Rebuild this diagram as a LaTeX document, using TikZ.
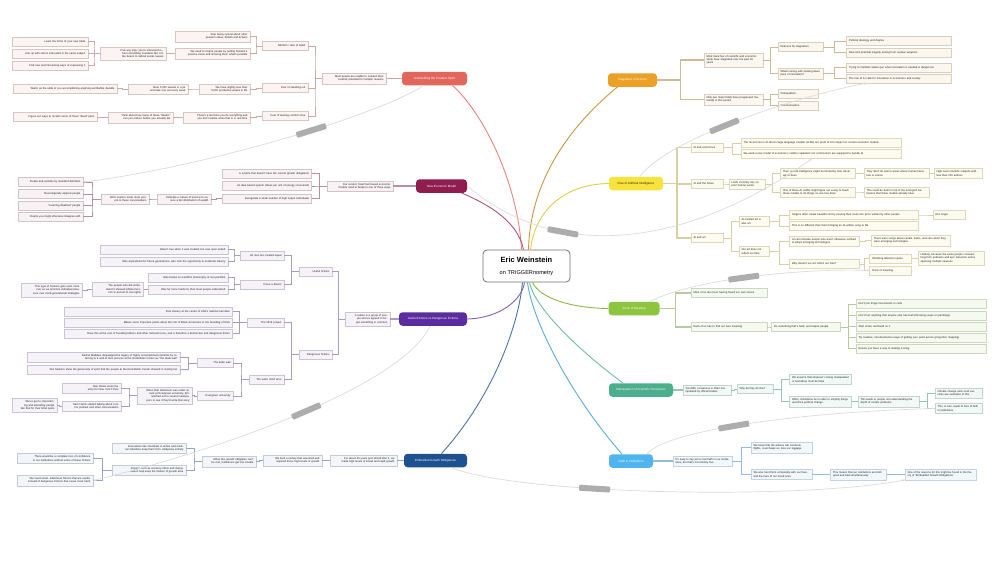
\documentclass[tikz,border=0pt]{standalone}
\usepackage{fontspec}
\setmainfont{Liberation Sans}
\usetikzlibrary{arrows.meta,positioning,calc}
\definecolor{ink}{HTML}{222222}
\definecolor{uT}{HTML}{E1675D}\definecolor{uF}{HTML}{FBF4F3}\definecolor{uB}{HTML}{D8C6C4}\definecolor{uL}{HTML}{CDA9A5}
\definecolor{nT}{HTML}{8F1D4F}\definecolor{nF}{HTML}{F8F2F4}\definecolor{nB}{HTML}{D3C2C9}\definecolor{nL}{HTML}{B88FA0}
\definecolor{fT}{HTML}{5B2C9D}\definecolor{fF}{HTML}{F5F3F8}\definecolor{fB}{HTML}{CAC4D6}\definecolor{fL}{HTML}{A59CBF}
\definecolor{eT}{HTML}{1E5190}\definecolor{eF}{HTML}{F3F5F9}\definecolor{eB}{HTML}{C4CBD8}\definecolor{eL}{HTML}{94A6C2}
\definecolor{sT}{HTML}{EAA126}\definecolor{sF}{HTML}{FBF7EE}\definecolor{sB}{HTML}{D9CFBC}\definecolor{sL}{HTML}{CDBB98}
\definecolor{aT}{HTML}{F8E33C}\definecolor{aF}{HTML}{FCFBEF}\definecolor{aB}{HTML}{DCD8B8}\definecolor{aL}{HTML}{D6D0A3}
\definecolor{mT}{HTML}{8DC540}\definecolor{mF}{HTML}{F5F9F0}\definecolor{mB}{HTML}{CCD8BD}\definecolor{mL}{HTML}{B7CB9E}
\definecolor{pT}{HTML}{4BAE8C}\definecolor{pF}{HTML}{F2F8F6}\definecolor{pB}{HTML}{C0D5CE}\definecolor{pL}{HTML}{99C3B4}
\definecolor{qT}{HTML}{4FB5EE}\definecolor{qF}{HTML}{F1F7FB}\definecolor{qB}{HTML}{C0D3DE}\definecolor{qL}{HTML}{92BDD6}
\newcommand\leaffont{\fontsize{2.7}{3.3}\selectfont}
\newcommand\topicfont{\fontsize{3}{3.6}\selectfont}
\newcommand\tagfont{\fontsize{2.4}{2.8}\selectfont}

\begin{document}
\begin{tikzpicture}[x=1pt,y=-1pt,
 leaf/.style={draw,line width=.4pt,inner xsep=2.4pt,inner ysep=2.3pt,minimum height=9pt,font=\leaffont,text=ink},
 lb/.style={leaf,align=right,text width=#1},
 rb/.style={leaf,align=left,text width=#1},
 topic/.style={rounded corners=3.5pt,text=white,font=\topicfont,minimum height=13.5pt,inner sep=1pt},
 hub/.style={draw=black!55,line width=.8pt,rounded corners=4pt,fill=white,minimum width=87pt,minimum height=32pt,align=center},
 lk/.style={line width=.7pt},
 stem/.style={line width=1.6pt},
 spoke/.style={line width=.9pt},
 rel/.style={draw=black!14,line width=.7pt,-{Stealth[length=3pt,width=2.4pt]}},
 tag/.style={fill=black!32,text=white,font=\tagfont,rounded corners=1pt,inner sep=1pt,minimum width=31pt,minimum height=6pt}]
\useasboundingbox[fill=white] (0,0) rectangle (1000,562);

\node[hub] (ctr) at (526.5,266) {{\fontsize{7.5}{8.5}\selectfont\bfseries Eric Weinstein}\\{\fontsize{5.6}{6.5}\selectfont on TRIGGERnometry}};

% Unshackling the Creative Spirit
\begin{scope}[leaf/.append style={draw=uB,fill=uF},lk/.append style={draw=uL}]
 \node[topic,fill=uT,minimum width=65pt] (uns) at (434.5,78.5) {Unshackling the Creative Spirit};
 \node[lb=59pt] (u1) at (354,78.5) {Most people are unable to unleash their creative potential for multiple reasons};
 \node[lb=41pt] (u2) at (285,46) {Nihilism / lack of belief};
 \node[lb=41pt] (u3) at (285,88) {Fear of standing out};
 \node[lb=41pt] (u4) at (285,116) {Fear of leaving comfort zone};
 \node[lb=70pt] (u5) at (212.5,36.5) {Stop being cynical about other people's ideas, beliefs and actions};
 \node[lb=70pt] (u6) at (212.5,53.5) {We need to inspire people by putting forward a positive vision and showing them what's possible};
 \node[lb=61pt] (u7) at (133,53.5) {Pick any topic you're interested in - from something mundane like coffee beans to radical social causes};
 \node[lb=71pt] (u8) at (50,41.5) {Learn the tricks of your new trade};
 \node[lb=71pt] (u9) at (50,53.5) {Join up with others interested in the same subject};
 \node[lb=71pt] (u10) at (50,65.5) {Find new and interesting ways of expressing it};
 \node[lb=46pt] (u11) at (224.5,89) {We have slightly less than 5,000 productive weeks in life};
 \node[lb=55pt] (u12) at (158,89) {Store 5,000 sweets in a jar and take one out every week};
 \node[lb=99pt] (u13) at (65,88.5) {Watch as the odds of you accomplishing anything worthwhile dwindle};
 \node[lb=62pt] (u14) at (216.5,117.5) {There's a last time you do everything and you don't realize when that is in real time};
 \node[lb=60pt] (u15) at (140.5,117.5) {Think about how many of these ``deaths'' can you endure before you actually die};
 \node[lb=79pt] (u16) at (55,117) {Figure out ways to reclaim some of those ``dead'' parts};
 \draw[lk,stem] (uns.west) -- (u1.east);
 \foreach \a/\b in {u1/u2,u1/u3,u1/u4,u2/u5,u2/u6,u6/u7,u7/u8,u7/u9,u7/u10,u3/u11,u11/u12,u12/u13,u4/u14,u14/u15,u15/u16}
  \draw[lk] (\a.west) -| ($(\a.west)!.5!(\b.east)$) |- (\b.east);
\end{scope}

% New Economic Model
\begin{scope}[leaf/.append style={draw=nB,fill=nF},lk/.append style={draw=nL}]
 \node[topic,fill=nT,minimum width=51pt] (neco) at (441.5,186) {New Economic Model};
 \node[lb=61pt] (n1) at (360,186) {Our current, fossil fuel based economic models need to break in one of three ways};
 \node[lb=84pt] (n2) at (267,173.5) {A system that doesn't have the current growth obligations};
 \node[lb=84pt] (n3) at (267,186) {An idea based system (ideas per unit of energy consumed)};
 \node[lb=84pt] (n4) at (267,198.5) {Deregulate a small number of high output individuals};
 \node[lb=49pt] (n5) at (184,199) {Cultivate a culture of service to ensure a fair distribution of wealth};
 \node[lb=43pt] (n6) at (125,199) {We'll need to invite more people to these conversations};
 \node[lb=60pt] (n7) at (50.5,182) {Freaks and weirdos by standard definition};
 \node[lb=60pt] (n8) at (50.5,194) {Neurologically atypical people};
 \node[lb=60pt] (n9) at (50.5,205.5) {``Learning disabled'' people};
 \node[lb=60pt] (n10) at (50.5,216.5) {People you might otherwise disagree with};
 \draw[lk,stem] (neco.west) -- (n1.east);
 \foreach \a/\b in {n1/n2,n1/n3,n1/n4,n4/n5,n5/n6,n6/n7,n6/n8,n6/n9,n6/n10}
  \draw[lk] (\a.west) -| ($(\a.west)!.5!(\b.east)$) |- (\b.east);
\end{scope}

% Useful Fictions vs Dangerous Fictions
\begin{scope}[leaf/.append style={draw=fB,fill=fF},lk/.append style={draw=fL}]
 \node[topic,fill=fT,minimum width=68pt] (fic) at (433,319) {Useful Fictions vs Dangerous Fictions};
 \node[lb=40pt] (f1) at (367.5,319) {A nation is a group of people who've agreed to forget something in common};
 \node[lb=28pt] (f2) at (315.5,271.5) {Useful fictions};
 \node[lb=28pt] (f3) at (315.5,354.5) {Dangerous fictions};
 \node[lb=39pt] (f4) at (262,255.5) {All men are created equal};
 \node[lb=39pt] (f5) at (262,284.5) {I have a dream};
 \node[lb=123pt] (f6) at (164,249.5) {Wasn't true when it was created, but was open ended};
 \node[lb=123pt] (f7) at (164,261.5) {Was aspirational for future generations, who took the opportunity to eradicate slavery};
 \node[lb=75pt] (f8) at (188,277.5) {Was based on Gandhi's philosophy of non-pacifism};
 \node[lb=75pt] (f9) at (188,289.5) {Was far more hardcore than most people understood};
 \node[lb=46pt] (f10) at (118,289.5) {The people who did understand it showed infinite heroism in pursuit of civil rights};
 \node[lb=56pt] (f11) at (51.5,290) {This type of heroism gets even more rare as we prioritize individual pleasure over multi-generational strategies};
 \node[lb=32pt] (f12) at (265.5,322.5) {The 1619 project};
 \node[lb=163pt] (f13) at (148.5,311.5) {Puts slavery at the center of USA's national narrative};
 \node[lb=163pt] (f14) at (148.5,322.5) {Makes some important points about the role of Black Americans in the founding of USA};
 \node[lb=163pt] (f15) at (148.5,333.5) {Does this at the cost of founding fathers and other national icons, and is therefore a destructive and dangerous fiction};
 \node[lb=30pt] (f16) at (266.5,379.5) {The woke mind virus};
 \node[lb=31pt] (f17) at (215,363) {The dude wall};
 \node[lb=31pt] (f18) at (215,396) {Evergreen university};
 \node[lb=148pt] (f19) at (103.5,357) {Rachel Maddow disparaged the legacy of highly accomplished scientists by referring to a wall of their pictures at the Rockefeller Center as ``the dude wall''};
 \node[lb=148pt] (f20) at (103.5,369.5) {She failed to show the generosity of spirit that the people at the Rockefeller Center showed in inviting her};
 \node[lb=50pt] (f21) at (164.5,395.5) {When Bret Weinstein was under attack at Evergreen university, Eric reached out to several newspapers to see if they'd write that story};
 \node[lb=54pt] (f22) at (91.5,388) {Bari Weiss wrote the story for New York Times};
 \node[lb=54pt] (f23) at (91.5,406) {Sam Harris started talking about it on his podcast and other conversations};
 \node[lb=40pt] (f24) at (34.5,405.5) {We've got to stop blaming and alienating people like that for their blind spots};
 \draw[lk,stem] (fic.west) -- (f1.east);
 \foreach \a/\b in {f1/f2,f1/f3,f2/f4,f2/f5,f4/f6,f4/f7,f5/f8,f5/f9,f9/f10,f10/f11,f3/f12,f3/f16,f12/f13,f12/f14,f12/f15,f16/f17,f16/f18,f17/f19,f17/f20,f18/f21,f21/f22,f21/f23,f23/f24}
  \draw[lk] (\a.west) -| ($(\a.west)!.5!(\b.east)$) |- (\b.east);
\end{scope}

% Embedded Growth Obligations
\begin{scope}[leaf/.append style={draw=eB,fill=eF},lk/.append style={draw=eL}]
 \node[topic,fill=eT,minimum width=63pt] (ego) at (435.5,460.5) {Embedded Growth Obligations};
 \node[lb=62pt] (e1) at (363.5,460.5) {For about 25 years post World War II, we made high levels of broad and rapid growth};
 \node[lb=54pt] (e2) at (292.5,460.5) {We built a society that assumed and required these high levels of growth};
 \node[lb=49pt] (e3) at (229,461.5) {When this growth obligation can't be met, institutions get into trouble};
 \node[lb=69pt] (e4) at (149,448) {Innovations like checklists in airline and medical industries keep them from collapsing entirely};
 \node[lb=69pt] (e5) at (149,470) {Fictions such as currency influx and manipulation help keep the illusion of growth alive};
 \node[lb=71pt] (e6) at (55,458.5) {There would be a complete loss of confidence in our institutions without some of these fictions};
 \node[lb=71pt] (e7) at (55,480.5) {We need smart, adult-level fictions that are useful, instead of dangerous fictions that cause more harm};
 \draw[lk,stem] (ego.west) -- (e1.east);
 \foreach \a/\b in {e1/e2,e2/e3,e3/e4,e3/e5,e5/e6,e5/e7}
  \draw[lk] (\a.west) -| ($(\a.west)!.5!(\b.east)$) |- (\b.east);
\end{scope}

% Stagnation of Science
\begin{scope}[leaf/.append style={draw=sB,fill=sF},lk/.append style={draw=sL}]
 \node[topic,fill=sT,minimum width=49pt] (stag) at (632.5,80) {Stagnation of Science};
 \node[rb=54pt] (s1) at (733.5,60) {Most branches of scientific and economic study have stagnated over the past 20 years};
 \node[rb=54pt] (s2) at (733.5,99.5) {Only two major fields have progressed materially in this period};
 \node[rb=40pt] (s3) at (800.5,47) {Reasons for stagnation};
 \node[rb=40pt] (s4) at (800.5,73.5) {What's wrong with slowing down pace of innovation?};
 \node[rb=100pt] (s5) at (899,41) {Political ideology and dogma};
 \node[rb=100pt] (s6) at (899,52.5) {Real and potential tragedy arising from nuclear weapons};
 \node[rb=100pt] (s7) at (899,67.5) {Trying to maintain status quo when innovation is needed is dangerous};
 \node[rb=100pt] (s8) at (899,78.5) {The rise of AI calls for innovation in economics and society};
 \node[rb=35pt] (s9) at (798,94) {Computation};
 \node[rb=35pt] (s10) at (798,105.5) {Communication};
 \foreach \b in {s1,s2}
  \draw[lk,stem] (stag.east) -| ($(stag.east)!.5!(\b.west)$) |- (\b.west);
 \foreach \a/\b in {s1/s3,s1/s4,s3/s5,s3/s6,s4/s7,s4/s8,s2/s9,s2/s10}
  \draw[lk] (\a.east) -| ($(\a.east)!.5!(\b.west)$) |- (\b.west);
\end{scope}

% Rise of Artificial Intelligence
\begin{scope}[leaf/.append style={draw=aB,fill=aF},lk/.append style={draw=aL}]
 \node[topic,fill=aT,text=ink,minimum width=54pt] (ai) at (636,183.5) {Rise of Artificial Intelligence};
 \node[rb=27pt] (a1) at (707,147.5) {AI and economics};
 \node[rb=27pt] (a2) at (707,184) {AI and the future};
 \node[rb=27pt] (a3) at (707,238) {AI and art};
 \node[rb=155pt] (a4) at (821,143) {The recent rise in AI-driven large language models (LLMs) are proof of AI's impact on current economic models};
 \node[rb=155pt] (a5) at (821,154) {We need a new model of economics; neither capitalism nor communism are equipped to handle AI};
 \node[rb=31pt] (a6) at (747,184) {LLMs currently rely on prior human works};
 \node[rb=70pt] (a7) at (818,173.5) {Their overall intelligence might be limited by how clever we've been};
 \node[rb=70pt] (a8) at (818,192) {One of these AI outfits might figure out a way to teach these models to do things no one has done};
 \node[rb=60pt] (a9) at (896.5,173.5) {They don't do well in areas where human literature is scarce};
 \node[rb=43pt] (a10) at (958,173.5) {High level scientific subjects with less than 200 authors};
 \node[rb=60pt] (a11) at (896.5,192) {This could be built on top of the emergent behaviors that these models already have};
 \node[rb=25pt] (a12) at (754,221.5) {AI-created art is also art};
 \node[rb=25pt] (a13) at (754,251.5) {Our art does not reflect our time};
 \node[rb=124pt] (a14) at (854,215) {Singers often create beautiful art by pouring their souls into lyrics written by other people};
 \node[rb=124pt] (a15) at (854,226) {This is no different than them bringing an AI-written song to life};
 \node[rb=27pt] (a16) at (949,215) {Eric sings!};
 \node[rb=65pt] (a17) at (824.5,241) {AI can motivate people who aren't otherwise inclined to adopt emerging technologies};
 \node[rb=65pt] (a18) at (824.5,264) {Why doesn't our art reflect our time?};
 \node[rb=74pt] (a19) at (911,240.5) {There were songs about canals, trains, and cars when they were emerging technologies};
 \node[rb=37pt] (a20) at (890.5,258.5) {Shrinking attention spans};
 \node[rb=37pt] (a21) at (890.5,270.5) {Crisis of meaning};
 \node[rb=61pt] (a22) at (951,258) {Unlikely, because the same people consume long-form podcasts and epic television series spanning multiple seasons};
 \foreach \b in {a1,a2,a3}
  \draw[lk,stem] (ai.east) -| ($(ai.east)!.5!(\b.west)$) |- (\b.west);
 \foreach \a/\b in {a1/a4,a1/a5,a2/a6,a6/a7,a6/a8,a7/a9,a9/a10,a8/a11,a3/a12,a3/a13,a12/a14,a12/a15,a14/a16,a13/a17,a13/a18,a17/a19,a18/a20,a18/a21,a20/a22}
  \draw[lk] (\a.east) -| ($(\a.east)!.5!(\b.west)$) |- (\b.west);
\end{scope}

% Crisis of Meaning
\begin{scope}[leaf/.append style={draw=mB,fill=mF},lk/.append style={draw=mL}]
 \node[topic,fill=mT,minimum width=51pt] (mean) at (634,308.5) {Crisis of Meaning};
 \node[rb=71pt] (m1) at (729,293) {Most of us die never having heard our own voices};
 \node[rb=71pt] (m2) at (729,327) {Each of us has to find our own meaning};
 \node[rb=64pt] (m3) at (806,327) {Do something that's hard, and inspire people};
 \node[rb=125pt] (m4) at (921,304) {Don't join fringe movements or cults};
 \node[rb=125pt] (m5) at (921,315.5) {Don't hurt anything that anyone else has built (throwing soups on paintings)};
 \node[rb=125pt] (m6) at (921,326.5) {Start small, and build on it};
 \node[rb=125pt] (m7) at (921,337.5) {Try creative, non-destructive ways of getting your point across (projection mapping)};
 \node[rb=125pt] (m8) at (921,348.5) {Ensure you have a way to making a living};
 \foreach \b in {m1,m2}
  \draw[lk,stem] (mean.east) -| ($(mean.east)!.5!(\b.west)$) |- (\b.west);
 \foreach \a/\b in {m2/m3,m3/m4,m3/m5,m3/m6,m3/m7,m3/m8}
  \draw[lk] (\a.east) -| ($(\a.east)!.5!(\b.west)$) |- (\b.west);
\end{scope}

% Manipulation of Scientific Consensus
\begin{scope}[leaf/.append style={draw=pB,fill=pF},lk/.append style={draw=pL}]
 \node[topic,fill=pT,minimum width=64pt] (man) at (641,390) {Manipulation of Scientific Consensus};
 \node[rb=43pt] (p1) at (707,390) {Scientific consensus is often manipulated by official bodies};
 \node[rb=31pt] (p2) at (755,389) {Why do they do this?};
 \node[rb=57pt] (p3) at (820.5,379.5) {We assume that whatever's being manipulated or lied about must be false};
 \node[rb=57pt] (p4) at (820.5,401.5) {Often, institutions lie in order to simplify things and drive political change};
 \node[rb=56pt] (p5) at (888.5,401.5) {This leads to people not understanding the depth of certain problems};
 \node[rb=42pt] (p6) at (958.5,393) {Climate change and covid vaccines are examples of this};
 \node[rb=42pt] (p7) at (958.5,408.5) {This, in turn, leads to loss of faith in institutions};
 \draw[lk,stem] (man.east) -- (p1.west);
 \foreach \a/\b in {p1/p2,p2/p3,p2/p4,p4/p5,p5/p6,p5/p7}
  \draw[lk] (\a.east) -| ($(\a.east)!.5!(\b.west)$) |- (\b.west);
\end{scope}

% Faith in Institutions
\begin{scope}[leaf/.append style={draw=qB,fill=qF},lk/.append style={draw=qL}]
 \node[topic,fill=qT,minimum width=44pt] (fai) at (631,461) {Faith in Institutions};
 \node[rb=54pt] (q1) at (702.5,461) {It's easy to say we've lost faith in our institutions, but that's not entirely true};
 \node[rb=56pt] (q2) at (781.5,447.5) {We know that the airlines will overbook flights, overcharge us, lose our luggage};
 \node[rb=56pt] (q3) at (781.5,474.5) {We also trust them completely with our lives, and the lives of our loved ones};
 \node[rb=51pt] (q4) at (858.5,474.5) {This means that our institutions are both good and bad simultaneously};
 \node[rb=66pt] (q5) at (940.5,474.5) {One of the reasons for this might be found in the theory of `Embedded Growth Obligations'};
 \draw[lk,stem] (fai.east) -- (q1.west);
 \foreach \a/\b in {q1/q2,q1/q3,q3/q4,q4/q5}
  \draw[lk] (\a.east) -| ($(\a.east)!.5!(\b.west)$) |- (\b.west);
\end{scope}

% spokes from the hub
\draw[spoke,draw=uT!80] ([xshift=18pt]uns.south) .. controls (485,115) and (518,185) .. ([xshift=-5pt]ctr.north);
\draw[spoke,draw=nT!75] ([xshift=20pt]neco.south) .. controls (490,205) and (518,222) .. ([xshift=-3pt]ctr.north);
\draw[spoke,draw=sT!70!gray] ([xshift=-15pt]stag.south) .. controls (565,130) and (530,185) .. ([xshift=2pt]ctr.north);
\draw[spoke,draw=aT!80!gray] (ai.west) .. controls (565,184) and (535,210) .. ([xshift=4pt]ctr.north);
\draw[spoke,draw=fT!75] (fic.east) .. controls (500,318) and (522,300) .. ([xshift=-2pt]ctr.south);
\draw[spoke,draw=eT!80] ([xshift=6pt]ego.north) .. controls (490,400) and (518,330) .. ([xshift=-4pt]ctr.south);
\draw[spoke,draw=mT!80!gray] (mean.west) .. controls (570,308) and (540,298) .. ([xshift=6pt]ctr.south);
\draw[spoke,draw=pT!80] ([xshift=-18pt]man.north) .. controls (585,355) and (535,310) .. ([xshift=3pt]ctr.south);
\draw[spoke,draw=qT!80!gray] ([xshift=-9pt]fai.north) .. controls (570,395) and (532,320) .. ([xshift=1pt]ctr.south);

% cross links
\draw[rel] ([xshift=-11pt]uns.south) .. controls (380,115) and (200,168) .. (n7.east) node[tag,pos=.42,sloped] {};
\draw[rel] ([xshift=-3pt]fic.south) .. controls (400,390) and (200,455) .. (e7.east) node[tag,pos=.46,sloped] {};
\draw[rel] ([xshift=4pt]ai.north) .. controls (665,140) and (800,95) .. ([xshift=-32pt]s8.south) node[tag,pos=.45,sloped] {};
\draw[rel] (neco.east) .. controls (560,265) and (690,245) .. ([xshift=-9pt]a5.south) node[tag,pos=.31,sloped] {};
\draw[rel] ([xshift=16pt]mean.north) .. controls (690,280) and (800,268) .. (a21.west) node[tag,pos=.48,sloped] {};
\draw[rel] (p7.west) .. controls (800,412) and (670,430) .. ([xshift=16pt]fai.north) node[tag,pos=.55,sloped] {};
\draw[rel] ([xshift=15pt]ego.south) .. controls (520,495) and (800,500) .. (q5.south west) node[tag,pos=.37,sloped] {};
\end{tikzpicture}
\end{document}
